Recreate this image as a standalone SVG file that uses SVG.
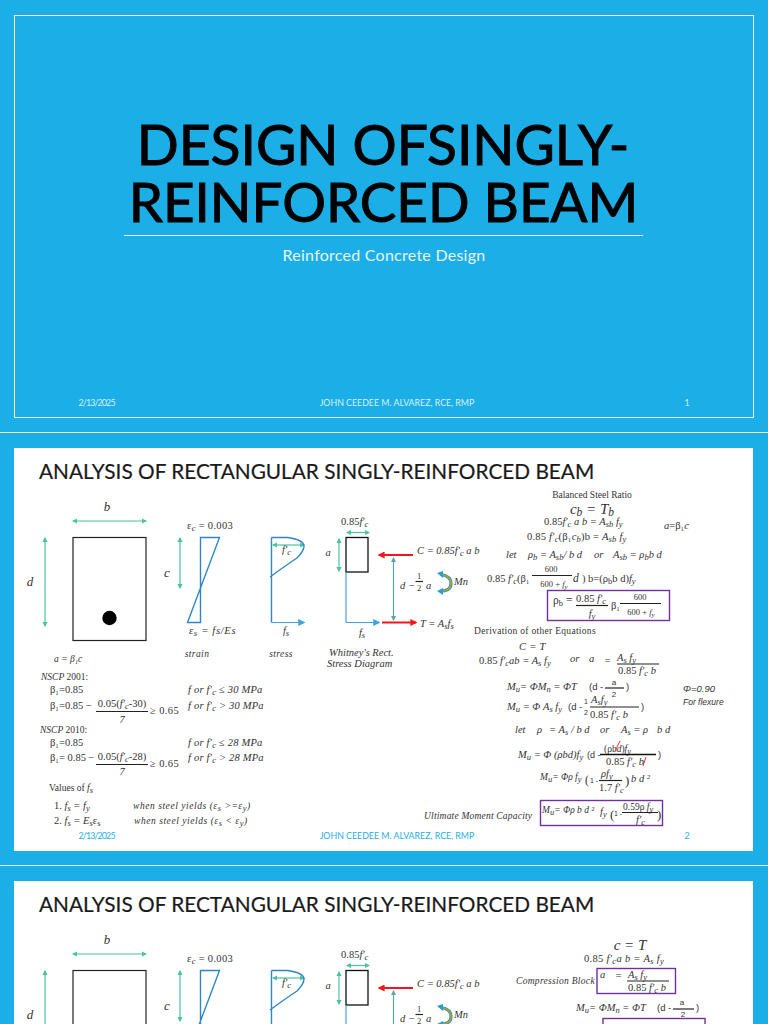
<svg xmlns="http://www.w3.org/2000/svg" width="768" height="1024" viewBox="0 0 768 1024">
<style>
text{font-family:"Liberation Serif",serif;fill:#333}
.t{font-family:"Lato","Noto Sans",sans-serif;fill:#000;stroke:#000;stroke-width:1}
.h{font-family:"Lato","Noto Sans",sans-serif;font-size:20.8px;fill:#1a1a1a;stroke:#1a1a1a;stroke-width:.2}
.f{font-family:"Lato","Noto Sans",sans-serif;font-size:8.800px;fill:#1eaee6}
.w{font-family:"Lato","Noto Sans",sans-serif;font-size:8.800px;fill:#d8f2fc}
.i{font-style:italic}
.s8{font-size:8.500px}.s9{font-size:9.500px}.s10{font-size:10.500px}.s11{font-size:11.500px}.s13{font-size:13px}.s15{font-size:15px}
.b{font-family:"Liberation Sans",sans-serif;font-size:9.500px}
.m{text-anchor:middle}
.gl{stroke:#48c49f;stroke-width:1.2;fill:none;marker-start:url(#ga);marker-end:url(#ga)}
.bl{stroke:#2e86c8;stroke-width:1.400;fill:none}
.lb{stroke:#3fa3e0;stroke-width:1.200;fill:none}
.rd{stroke:#f5141e;stroke-width:2;fill:none;marker-end:url(#ra)}
.k{stroke:#222;stroke-width:1.200;fill:none}
.k2{stroke:#111;stroke-width:1.300;fill:#fff}
.pu{stroke:#7030a0;stroke-width:1.400;fill:none}
</style>
<defs>
<marker id="ga" viewBox="0 0 10 10" refX="8" refY="5" markerWidth="4.500" markerHeight="4.500" orient="auto-start-reverse"><path d="M0 0L10 5L0 10z" fill="#48c49f"/></marker>
<marker id="ra" viewBox="0 0 10 10" refX="8" refY="5" markerWidth="3.500" markerHeight="3.500" orient="auto"><path d="M0 0L10 5L0 10z" fill="#f5141e"/></marker>
<marker id="ba" viewBox="0 0 10 10" refX="8" refY="5" markerWidth="6" markerHeight="6" orient="auto"><path d="M0 0L10 5L0 10z" fill="#3fa3e0"/></marker>
<marker id="ta" viewBox="0 0 10 10" refX="8" refY="5" markerWidth="4.500" markerHeight="4.500" orient="auto-start-reverse"><path d="M0 0L10 5L0 10z" fill="#5aa5a5"/></marker>
<g id="beam">
<path class="gl" d="M73 521H146"/>
<path class="gl" d="M45 538V626"/>
<rect x="73" y="537.500" width="73" height="103" fill="#fff" stroke="#222" stroke-width="1.200"/>
<text x="107" y="511" class="i s13 m">b</text>
<text x="30" y="586" class="i s13 m">d</text>
<text x="167" y="577" class="i s13 m">c</text>
<text x="187" y="529" class="s10" letter-spacing=".3">ε<tspan class="i s8" dy="2">c</tspan><tspan dy="-2"> = 0.003</tspan></text>
<path class="gl" d="M180 538V588"/>
<path class="bl" d="M200.500 537.500H219.500L187.500 622.500H200.500Z"/>
<path class="gl" d="M273 545H304"/>
<path class="bl" d="M271.500 537.500V622.500M271.500 537.500H288Q304 540 304 546Q304 551 297 558Q285 566 270 577"/>
<path class="gl" d="M339 539V571"/>
<rect x="346" y="537.500" width="22" height="34.500" class="k2"/>
<path class="gl" d="M347 532.500H369"/>
<text x="341" y="525" class="s10">0.85<tspan class="i">f′</tspan><tspan class="i s8" dy="2">c</tspan></text>
<text x="328" y="556" class="i s10 m">a</text>
<text x="282" y="553" class="i s10">f′<tspan class="s8" dy="2">c</tspan></text>
<path class="lb" d="M346 572V622.500"/>
<path class="rd" d="M413 555H379"/>
<path class="rd" d="M382 622.500H416"/>
<path d="M393.500 558V620" stroke="#5aa5a5" stroke-width="1.200" marker-start="url(#ta)" marker-end="url(#ta)" fill="none"/>
<text x="400" y="589" class="i s10">d −</text>
<text x="419" y="579" class="s8 m">1</text>
<path class="k" d="M415.500 581.500H423" stroke-width=".8"/>
<text x="419" y="591" class="s8 m">2</text>
<text x="426" y="589" class="i s10">a</text>
<path d="M441 574.500Q451 576 451 583.500Q451 591 441 591" fill="none" stroke="#2e9ccf" stroke-width="3.200"/>
<path d="M441 574.500Q451 576 451 583.500Q451 591 441 591" fill="none" stroke="#b89a28" stroke-width="1.500"/>
<path d="M437 573L443 571V578ZM437 591L443 588V595Z" fill="#2e9ccf"/>
<text x="454" y="585" class="i s10">Mn</text>
<text x="417" y="554" class="i s10">C = 0.85<tspan>f′</tspan><tspan class="s8" dy="2">c</tspan><tspan dy="-2"> a b</tspan></text>
</g>
</defs>

<rect width="768" height="1024" fill="#1caee6"/>
<rect x="14.500" y="15.500" width="739" height="402" fill="none" stroke="#fff" stroke-width="1"/>
<path d="M0 432.500H768M0 865.500H768" stroke="#e8f8ff" stroke-width="1.200"/>
<rect x="14" y="448" width="739" height="403" fill="#fff"/>
<rect x="14" y="881" width="739" height="143" fill="#fff"/>

<g id="title">
<text x="383" y="165" class="t m" font-size="55.200">DESIGN OFSINGLY-</text>
<text x="383.500" y="222" class="t m" font-size="54.700">REINFORCED BEAM</text>
<path d="M124 235.500H643" stroke="#e8f8ff" stroke-width="1"/>
<text x="384" y="261" class="m" font-size="16" style="font-family:Lato,sans-serif;fill:#e6f7fd" letter-spacing=".25">Reinforced Concrete Design</text>
<text x="97" y="406" class="w m" textLength="37">2/13/2025</text>
<text x="397" y="406" class="w m">JOHN CEEDEE M. ALVAREZ, RCE, RMP</text>
<text x="687" y="406" class="w m">1</text>
</g>

<g id="slide2">
<text x="39" y="479" class="h">ANALYSIS OF RECTANGULAR SINGLY-REINFORCED BEAM</text>
<use href="#beam"/>
<circle cx="109.500" cy="618" r="7.200" fill="#000"/>
<text x="189" y="634" class="i s10" letter-spacing=".7">ε<tspan class="s8" dy="2">s</tspan><tspan dy="-2"> = fs/Es</tspan></text>
<path class="lb" d="M271.500 622.500H304" marker-end="url(#ba)"/>
<path class="lb" d="M346 622.500H379" marker-end="url(#ba)"/>
<text x="286" y="634" class="i s10 m">f<tspan class="s8" dy="2">s</tspan></text>
<text x="362" y="636" class="i s10 m">f<tspan class="s8" dy="2">s</tspan></text>
<text x="420" y="627" class="i s10">T = A<tspan class="s8" dy="2">s</tspan><tspan dy="-2">f</tspan><tspan class="s8" dy="2">s</tspan></text>
<text x="54" y="662" class="i s9">a = β₁c</text>
<text x="197" y="657" class="i s9 m" letter-spacing=".4">strain</text>
<text x="281" y="657" class="i s9 m" letter-spacing=".4">stress</text>
<text x="329" y="656" class="i s10">Whitney's Rect.</text>
<text x="327" y="667" class="i s10">Stress Diagram</text>

<text x="41" y="680" class="s9"><tspan class="i">NSCP</tspan> 2001:</text>
<text x="50" y="693" class="s10">β₁=0.85</text>
<text x="50" y="709" class="s10">β₁=0.85 −</text>
<text x="122" y="707" class="s10 m">0.05(<tspan class="i">f′</tspan><tspan class="i s8" dy="2">c</tspan><tspan dy="-2">-30)</tspan></text>
<path class="k" d="M96 711.500H148"/>
<text x="122" y="723" class="i s10 m">7</text>
<text x="150" y="714" class="s10" letter-spacing=".4">≥ 0.65</text>
<text x="188" y="693" class="i s10" letter-spacing=".2">f or f′<tspan class="s8" dy="2">c</tspan><tspan dy="-2"> ≤ 30 MPa</tspan></text>
<text x="188" y="709" class="i s10" letter-spacing=".2">f or f′<tspan class="s8" dy="2">c</tspan><tspan dy="-2"> &gt; 30 MPa</tspan></text>
<text x="40" y="733" class="s9"><tspan class="i">NSCP</tspan> 2010:</text>
<text x="50" y="746" class="s10">β₁=0.85</text>
<text x="50" y="761" class="s10">β₁= 0.85 −</text>
<text x="122" y="760" class="s10 m">0.05(<tspan class="i">f′</tspan><tspan class="i s8" dy="2">c</tspan><tspan dy="-2">-28)</tspan></text>
<path class="k" d="M96 764.500H148"/>
<text x="122" y="775" class="i s10 m">7</text>
<text x="150" y="767" class="s10" letter-spacing=".4">≥ 0.65</text>
<text x="188" y="746" class="i s10" letter-spacing=".2">f or f′<tspan class="s8" dy="2">c</tspan><tspan dy="-2"> ≤ 28 MPa</tspan></text>
<text x="188" y="761" class="i s10" letter-spacing=".2">f or f′<tspan class="s8" dy="2">c</tspan><tspan dy="-2"> &gt; 28 MPa</tspan></text>
<text x="49" y="791" class="s9">Values of <tspan class="i">f</tspan><tspan class="i s8" dy="2">s</tspan></text>
<text x="54" y="809" class="s10">1. <tspan class="i">f</tspan><tspan class="i s8" dy="2">s</tspan><tspan class="i" dy="-2"> = f</tspan><tspan class="i s8" dy="2">y</tspan></text>
<text x="54" y="824" class="s10">2. <tspan class="i">f</tspan><tspan class="i s8" dy="2">s</tspan><tspan class="i" dy="-2"> = E</tspan><tspan class="i s8" dy="2">s</tspan><tspan dy="-2">ε</tspan><tspan class="s8" dy="2">s</tspan></text>
<text x="133" y="809" class="i s9" letter-spacing=".55">when steel yields (ε<tspan class="s8" dy="2">s</tspan><tspan dy="-2"> &gt;=ε</tspan><tspan class="s8" dy="2">y</tspan><tspan dy="-2">)</tspan></text>
<text x="134" y="824" class="i s9" letter-spacing=".55">when steel yields (ε<tspan class="s8" dy="2">s</tspan><tspan dy="-2"> &lt; ε</tspan><tspan class="s8" dy="2">y</tspan><tspan dy="-2">)</tspan></text>

<text x="592" y="498" class="s9 m">Balanced Steel Ratio</text>
<text x="592" y="514" class="i s15 m">c<tspan class="s11" dy="2">b</tspan><tspan dy="-2"> = T</tspan><tspan class="s11" dy="2">b</tspan></text>
<text x="544" y="525" class="s10">0.85<tspan class="i">f′</tspan><tspan class="i s8" dy="2">c</tspan><tspan class="i" dy="-2"> a b = A</tspan><tspan class="i s8" dy="2">sb</tspan><tspan class="i" dy="-2"> f</tspan><tspan class="i s8" dy="2">y</tspan></text>
<text x="527" y="540" class="s10" letter-spacing=".2">0.85 <tspan class="i">f′</tspan><tspan class="i s8" dy="2">c</tspan><tspan dy="-2">(β₁</tspan><tspan class="i">c</tspan><tspan class="i s8" dy="2">b</tspan><tspan dy="-2">)b = </tspan><tspan class="i">A</tspan><tspan class="i s8" dy="2">sb</tspan><tspan class="i" dy="-2"> f</tspan><tspan class="i s8" dy="2">y</tspan></text>
<text x="664" y="529" class="s10"><tspan class="i">a</tspan>=β₁<tspan class="i">c</tspan></text>
<text x="506" y="558" class="i s10">let</text>
<text x="528" y="558" class="i s10">ρ<tspan class="s8" dy="2">b</tspan><tspan dy="-2"> = A</tspan><tspan class="s8" dy="2">sb</tspan><tspan dy="-2">/ b d</tspan></text>
<text x="594" y="558" class="i s10">or</text>
<text x="613" y="558" class="i s10">A<tspan class="s8" dy="2">sb</tspan><tspan dy="-2"> = ρ</tspan><tspan class="s8" dy="2">b</tspan><tspan dy="-2">b d</tspan></text>
<text x="487" y="582" class="s10">0.85 <tspan class="i">f′</tspan><tspan class="i s8" dy="2">c</tspan><tspan dy="-2">(β₁</tspan></text>
<text x="551" y="572" class="s8 m">600</text>
<path class="k" d="M532 575.500H572"/>
<text x="554" y="587" class="s8 m">600 + <tspan class="i">f</tspan><tspan class="i" font-size="7" dy="2">y</tspan></text>
<text x="573" y="582" class="i s11">d</text>
<text x="582" y="582" class="s10">) b=(ρ<tspan class="s8" dy="2">b</tspan><tspan dy="-2">b d)</tspan><tspan class="i">f</tspan><tspan class="i s8" dy="2">y</tspan></text>
<rect x="547.500" y="590.500" width="122" height="30" class="pu"/>
<text x="553" y="604" class="s11">ρ<tspan class="s8" dy="2">b</tspan><tspan dy="-2"> =</tspan></text>
<text x="576" y="602" class="s10">0.85 <tspan class="i">f′</tspan><tspan class="i s8" dy="2">c</tspan></text>
<path class="k" d="M576 605.500H608"/>
<text x="592" y="617" class="i s10 m">f<tspan class="s8" dy="2">y</tspan></text>
<text x="611" y="609" class="s10">β₁</text>
<text x="640" y="600" class="s8 m">600</text>
<path class="k" d="M620 603.500H661"/>
<text x="641" y="615" class="s8 m">600 + <tspan class="i">f</tspan><tspan class="i" font-size="7" dy="2">y</tspan></text>

<text x="474" y="634" class="s9" letter-spacing=".3">Derivation of other Equations</text>
<text x="519" y="650" class="i s10" letter-spacing=".3">C = T</text>
<text x="479" y="664" class="s10">0.85 <tspan class="i">f′</tspan><tspan class="i s8" dy="2">c</tspan><tspan class="i" dy="-2">ab = A</tspan><tspan class="i s8" dy="2">s</tspan><tspan class="i" dy="-2"> f</tspan><tspan class="i s8" dy="2">y</tspan></text>
<text x="570" y="662" class="i s10">or</text>
<text x="589" y="662" class="i s10">a</text>
<text x="604" y="664" class="i s10">=</text>
<text x="617" y="661" class="i s10">A<tspan class="s8" dy="2">s</tspan><tspan dy="-2"> f</tspan><tspan class="s8" dy="2">y</tspan></text>
<path class="k" d="M617 664H659"/>
<text x="618" y="674" class="s10">0.85 <tspan class="i">f′</tspan><tspan class="i s8" dy="2">c</tspan><tspan class="i" dy="-2"> b</tspan></text>
<text x="507" y="690" class="i s10">M<tspan class="s8" dy="2">u</tspan><tspan dy="-2">= ΦM</tspan><tspan class="s8" dy="2">n</tspan><tspan dy="-2"> =  ΦT</tspan></text>
<text x="589" y="690" class="b">(d -</text>
<text x="614" y="685" class="b m" style="font-size:8px">a</text>
<path class="k" d="M605 688H624"/>
<text x="614" y="697" class="b m" style="font-size:8px">2</text>
<text x="626" y="690" class="b">)</text>
<text x="683" y="692" class="i" font-size="9.500" style="font-family:'Liberation Sans',sans-serif">Φ=0.90</text>
<text x="683" y="705" class="i" style="font-family:'Liberation Sans',sans-serif;font-size:8.500px">For flexure</text>
<text x="507" y="710" class="i s10">M<tspan class="s8" dy="2">u</tspan><tspan dy="-2"> = Φ A</tspan><tspan class="s8" dy="2">s</tspan><tspan dy="-2"> f</tspan><tspan class="s8" dy="2">y</tspan></text>
<text x="568" y="710" class="b">(d -</text>
<text x="586" y="704" class="b m" style="font-size:7px">1</text>
<text x="586" y="715" class="b m" style="font-size:7px">2</text>
<text x="591" y="703" class="i s10">A<tspan class="s8" dy="2">s</tspan><tspan dy="-2">f</tspan><tspan class="s8" dy="2">y</tspan></text>
<path class="k" d="M590 707H639"/>
<text x="590" y="718" class="s10">0.85 <tspan class="i">f′</tspan><tspan class="i s8" dy="2">c</tspan><tspan class="i" dy="-2"> b</tspan></text>
<text x="641" y="710" class="b">)</text>
<text x="515" y="733" class="i s10">let</text>
<text x="537" y="733" class="i s10">ρ</text>
<text x="549" y="733" class="i s10">= A<tspan class="s8" dy="2">s</tspan><tspan dy="-2"> / b d</tspan></text>
<text x="600" y="733" class="i s10">or</text>
<text x="621" y="733" class="i s10">A<tspan class="s8" dy="2">s</tspan><tspan dy="-2"> = ρ</tspan></text>
<text x="657" y="733" class="i s10">b d</text>
<text x="518" y="758" class="i s10">M<tspan class="s8" dy="2">u</tspan><tspan dy="-2"> = Φ (ρbd)f</tspan><tspan class="s8" dy="2">y</tspan></text>
<text x="587" y="758" class="b" style="font-size:9px">(d -</text>
<text x="604" y="752" class="s9">(ρb<tspan class="i">d</tspan>)<tspan class="i">f</tspan><tspan class="i s8" dy="2">y</tspan></text>
<path d="M600 754.500H656" stroke="#111" stroke-width="1.500"/>
<path d="M615 751L620 741M643 766L646 757" stroke="#f03030" stroke-width="1"/>
<text x="606" y="765" class="s10">0.85 <tspan class="i">f′</tspan><tspan class="i s8" dy="2">c</tspan><tspan class="i" dy="-2"> b</tspan></text>
<text x="658" y="758" class="b">)</text>
<text x="540" y="780" class="i s9">M<tspan class="s8" dy="2">u</tspan><tspan dy="-2">= Φρ f</tspan><tspan class="s8" dy="2">y</tspan></text>
<text x="585" y="784" class="s11">(</text>
<text x="590" y="783" class="b" style="font-size:7px">1 -</text>
<text x="601" y="777" class="i s10">ρf<tspan class="s8" dy="2">y</tspan></text>
<path class="k" d="M599 780.500H622"/>
<text x="599" y="791" class="s10">1.7 <tspan class="i">f′</tspan><tspan class="i s8" dy="2">c</tspan></text>
<text x="625" y="785" class="s13">)</text>
<text x="631" y="782" class="i s10">b d ²</text>
<text x="424" y="819" class="i s9" letter-spacing=".2">Ultimate Moment Capacity</text>
<rect x="540.500" y="800.500" width="122" height="25" class="pu"/>
<text x="542" y="813" class="i s9">M<tspan class="s8" dy="2">u</tspan><tspan dy="-2">= Φρ b d ²</tspan></text>
<text x="600" y="815" class="i s10">f<tspan class="s8" dy="2">y</tspan></text>
<text x="610" y="819" class="s13">(</text>
<text x="614" y="816" class="b" style="font-size:7px">1 -</text>
<text x="623" y="810" class="s9">0.59ρ <tspan class="i">f</tspan><tspan class="i s8" dy="2">y</tspan></text>
<path class="k" d="M622 812.500H658"/>
<text x="636" y="823" class="i s10">f′<tspan class="s8" dy="2">c</tspan></text>
<text x="657" y="819" class="s13">)</text>
<text x="97" y="839" class="f m" textLength="37">2/13/2025</text>
<text x="397" y="839" class="f m">JOHN CEEDEE M. ALVAREZ, RCE, RMP</text>
<text x="687" y="839" class="f m">2</text>
</g>

<g id="slide3">
<text x="39" y="912" class="h">ANALYSIS OF RECTANGULAR SINGLY-REINFORCED BEAM</text>
<use href="#beam" y="433"/>
<text x="630" y="950" class="i s15 m">c  = T</text>
<text x="584" y="962" class="s10" letter-spacing=".3">0.85 <tspan class="i">f′</tspan><tspan class="i s8" dy="2">c</tspan><tspan class="i" dy="-2">a b = A</tspan><tspan class="i s8" dy="2">s</tspan><tspan class="i" dy="-2">  f</tspan><tspan class="i s8" dy="2">y</tspan></text>
<text x="516" y="984" class="i s9" letter-spacing=".3">Compression Block</text>
<rect x="597" y="968.500" width="78.500" height="25" class="pu"/>
<text x="600" y="978" class="i s10">a</text>
<text x="615" y="979" class="i s10">=</text>
<text x="628" y="978" class="i s10">A<tspan class="s8" dy="2">s</tspan><tspan dy="-2"> f</tspan><tspan class="s8" dy="2">y</tspan></text>
<path class="k" d="M627 981H669"/>
<text x="628" y="991" class="s10">0.85 <tspan class="i">f′</tspan><tspan class="i s8" dy="2">c</tspan><tspan class="i" dy="-2"> b</tspan></text>
<text x="576" y="1011" class="i s10">M<tspan class="s8" dy="2">u</tspan><tspan dy="-2">= ΦM</tspan><tspan class="s8" dy="2">n</tspan><tspan dy="-2"> =  ΦT</tspan></text>
<text x="657" y="1011" class="b">(d -</text>
<text x="682" y="1005" class="b m" style="font-size:8px">a</text>
<path class="k" d="M673 1009H694"/>
<text x="683" y="1017" class="b m" style="font-size:8px">2</text>
<text x="696" y="1011" class="b">)</text>
<rect x="603" y="1018.500" width="102" height="12" class="pu"/>
</g>
</svg>
